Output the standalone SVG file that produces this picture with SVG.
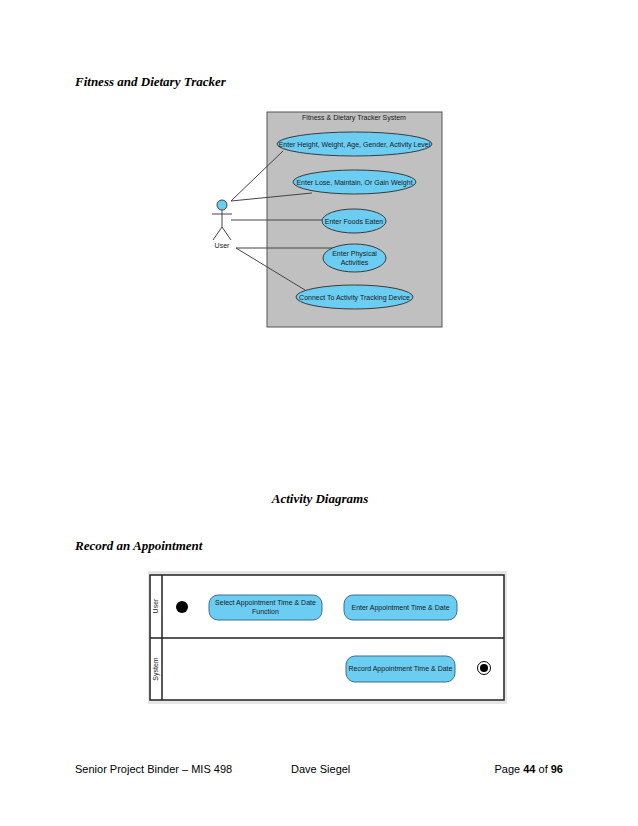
<svg xmlns="http://www.w3.org/2000/svg" width="638" height="826" viewBox="0 0 638 826">
<style>
.h{font-family:"Liberation Serif",serif;font-weight:bold;font-style:italic;font-size:13px;fill:#000}
.f{font-family:"Liberation Sans",Arial,sans-serif;font-size:11px;fill:#000}
.t{font-family:"Liberation Sans",Arial,sans-serif;font-size:7px;fill:#1a1a1a;text-anchor:middle}
.uc{fill:#6ccdf2;stroke:#3a3a3a;stroke-width:1}
.act{fill:#6ccdf2;stroke:#3a6f8a;stroke-width:1}
.ln{stroke:#444;stroke-width:1;fill:none}
</style>
<defs><marker id="a" markerWidth="10" markerHeight="10" refX="9" refY="5" orient="auto" markerUnits="userSpaceOnUse"><path d="M0,0 L9,5 L0,10" fill="none" stroke="#333"/></marker></defs>
<rect width="638" height="826" fill="#fff"/>
<text class="h" x="75" y="86">Fitness and Dietary Tracker</text>
<text class="h" x="320" y="503" text-anchor="middle">Activity Diagrams</text>
<text class="h" x="75" y="550">Record an Appointment</text>
<g id="system"><rect x="267" y="112" width="175" height="215" fill="#c0c0c0" stroke="#555"/><text class="t" x="354" y="120">Fitness &amp; Dietary Tracker System</text></g>
<g id="actor" stroke="#444" fill="none"><circle cx="222" cy="205" r="5" fill="#6ccdf2"/><path d="M222,210V227M212,214H232M222,227L213,240M222,227L231,240"/><text class="t" x="222" y="248" stroke="none">User</text></g>
<g id="connectors">
<path class="ln" d="M231,201L283,151M231,201L312,193M231,220H322M236,248H335M236,248L305,290"/>
<path class="ln" d="M188,607H209" marker-end="url(#a)"/>
<path class="ln" d="M322,607H344" marker-end="url(#a)"/>
<path class="ln" d="M400,620V656" marker-end="url(#a)"/>
<path class="ln" d="M455,668H477" marker-end="url(#a)"/>
</g>
<g id="uc1"><ellipse class="uc" cx="354.5" cy="144" rx="77.5" ry="12"/><text class="t" x="354.5" y="147">Enter Height, Weight, Age, Gender, Activity Level</text></g>
<g id="uc2"><ellipse class="uc" cx="354.5" cy="182" rx="61.5" ry="12"/><text class="t" x="354.5" y="185">Enter Lose, Maintain, Or Gain Weight</text></g>
<g id="uc3"><ellipse class="uc" cx="354" cy="221" rx="32" ry="12"/><text class="t" x="354" y="224">Enter Foods Eaten</text></g>
<g id="uc4"><ellipse class="uc" cx="354.5" cy="258" rx="31.5" ry="14"/><text class="t" x="354.5" y="256">Enter Physical</text><text class="t" x="354.5" y="265">Activities</text></g>
<g id="uc5"><ellipse class="uc" cx="354.5" cy="297" rx="58.5" ry="12"/><text class="t" x="354.5" y="300">Connect To Activity Tracking Device</text></g>
<g id="lanes"><rect x="148" y="571" width="359" height="133" fill="#e6e6e6"/><rect x="150" y="575" width="354" height="125" fill="#fff" stroke="#222" stroke-width="1.5"/><path d="M162,575V700M150,638H504" stroke="#222" stroke-width="1.5"/>
<text class="t" transform="translate(158,606) rotate(-90)">User</text><text class="t" transform="translate(158,669) rotate(-90)">System</text></g>
<g id="start"><circle cx="182" cy="607" r="6" fill="#000"/></g>
<g id="n1"><rect class="act" x="209" y="595" width="113" height="25" rx="9"/><text class="t" x="265.5" y="605">Select Appointment Time &amp; Date</text><text class="t" x="265.5" y="614">Function</text></g>
<g id="n2"><rect class="act" x="344" y="595" width="113" height="25" rx="9"/><text class="t" x="400.5" y="610">Enter Appointment Time &amp; Date</text></g>
<g id="n3"><rect class="act" x="346" y="656" width="109" height="26" rx="9"/><text class="t" x="400.5" y="671">Record Appointment Time &amp; Date</text></g>
<g id="end"><circle cx="484" cy="668" r="6.5" fill="#fff" stroke="#000"/><circle cx="484" cy="668" r="4" fill="#000"/></g>
<text class="f" x="75" y="773">Senior Project Binder – MIS 498</text>
<text class="f" x="291" y="773">Dave Siegel</text>
<text class="f" x="563" y="773" text-anchor="end">Page <tspan font-weight="bold">44</tspan> of <tspan font-weight="bold">96</tspan></text>
</svg>
